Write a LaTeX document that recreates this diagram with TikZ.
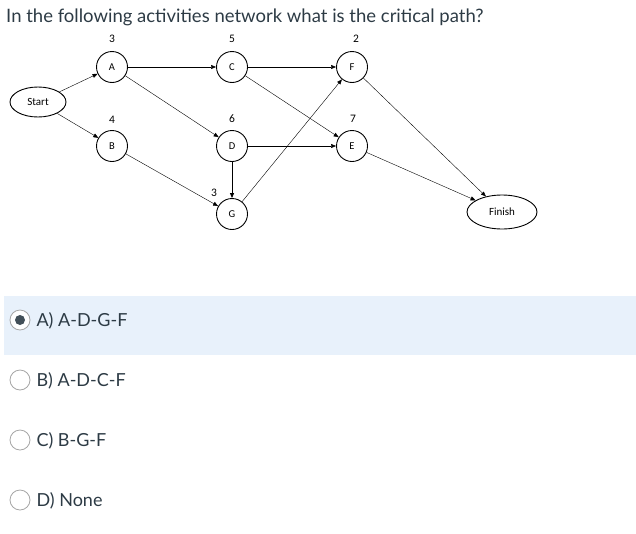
\documentclass[tikz,border=0pt]{standalone}
\usepackage{fontspec}
\setmainfont{Lato}
\newfontfamily\netfont{Carlito}
\usetikzlibrary{shapes.geometric,arrows.meta}
\definecolor{band}{HTML}{E8F1FB}
\definecolor{txt}{HTML}{2D3B45}
\begin{document}
\begin{tikzpicture}[x=1pt,y=-1pt,
  act/.style={circle,draw,line width=0.9pt,minimum size=31pt,inner sep=0pt,font=\netfont\fontsize{10.5}{12}\selectfont},
  term/.style={ellipse,draw,line width=0.9pt,inner sep=0pt,font=\netfont\fontsize{11}{12}\selectfont},
  dur/.style={font=\netfont\fontsize{11.5}{13}\selectfont},
  arr/.style={-{Triangle[length=5pt,width=4pt]},line width=0.4pt},
  radio/.style={circle,draw=gray!70,line width=0.8pt,minimum size=20pt,inner sep=0pt,fill=white},
  opt/.style={anchor=west,text=txt,font=\fontsize{18}{21}\selectfont}]
\useasboundingbox (0,0) rectangle (636,533);
\node[anchor=west,text=txt,font=\fontsize{18.5}{22}\selectfont,inner sep=0pt] (title) at (6,17) {In the following activities network what is the critical path?};
\node[term,minimum width=56pt,minimum height=30pt] (S) at (38,102) {Start};
\node[act] (A) at (112,67) {A};
\node[act] (B) at (112,146) {B};
\node[act] (C) at (232,67) {C};
\node[act] (D) at (232,146) {D};
\node[act] (G) at (232,214) {G};
\node[act] (F) at (352,67) {F};
\node[act] (E) at (352,146) {E};
\node[term,minimum width=70pt,minimum height=34pt] (Fin) at (502,212) {Finish};
\node[dur] (lA) at (112,39) {3};
\node[dur] (lB) at (112,120) {4};
\node[dur] (lC) at (232,39) {5};
\node[dur] (lD) at (232,119) {6};
\node[dur] (lG) at (214,193) {3};
\node[dur] (lF) at (356,39) {2};
\node[dur] (lE) at (353,119) {7};
\draw[arr] (S) -- (A);
\draw[arr] (S) -- (B);
\draw[arr] (A) -- (C);
\draw[arr] (A) -- (D);
\draw[arr] (B) -- (G);
\draw[arr] (C) -- (F);
\draw[arr] (C) -- (E);
\draw[arr] (D) -- (E);
\draw[arr,line width=0.8pt] (D) -- (G);
\draw[arr] (G) -- (F);
\draw[arr] (F) -- (Fin);
\draw[arr] (E) -- (Fin);
\fill[band] (4,296) rectangle (636,355);
\node[radio] (r1) at (20,320) {};
\fill[txt!90] (r1) circle (5pt);
\node[opt] (o1) at (33,321) {A) A-D-G-F};
\node[radio] (r2) at (20,380) {};
\node[opt] (o2) at (33,381) {B) A-D-C-F};
\node[radio] (r3) at (20,440) {};
\node[opt] (o3) at (33,441) {C) B-G-F};
\node[radio] (r4) at (20,500) {};
\node[opt] (o4) at (33,501) {D) None};
\end{tikzpicture}
\end{document}
